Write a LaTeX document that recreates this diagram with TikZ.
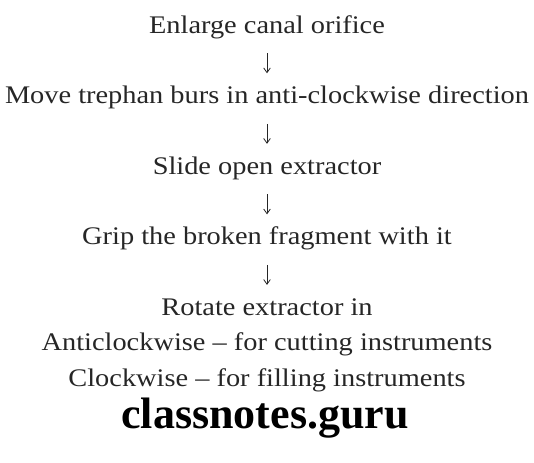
\documentclass[tikz,border=0pt]{standalone}
\usepackage{fontspec}
\setmainfont{Liberation Serif}[FakeStretch=1.12]
\newfontfamily\markfont{Liberation Serif}
\usetikzlibrary{arrows.meta, positioning}
\tikzstyle{stepbox} = [inner sep=0pt, font=\fontsize{19}{23}\selectfont, text height=12.75pt, text depth=3.75pt, text=black!85]
\tikzstyle{optline} = [stepbox]
\tikzstyle{sitemark} = [inner sep=0pt, anchor=base, font=\markfont\bfseries\fontsize{33}{38}\selectfont, text=black]
\tikzstyle{arrow} = [line width=0.6pt, draw=black!85, -{Straight Barb[length=3.5pt,width=5pt]}, shorten <=11.25pt, shorten >=9.75pt]

\begin{document}
\begin{tikzpicture}[x=0.75pt, y=-0.75pt, node distance=36pt]

        % Canvas
        \useasboundingbox (0,0) rectangle (534,462);

        % Steps
        \node (enlarge) [stepbox, anchor=base] at (267,33) {Enlarge canal orifice};
        \node (trephan) [stepbox, below=of enlarge] {Move trephan burs in anti-clockwise direction};
        \node (slide) [stepbox, below=of trephan] {Slide open extractor};
        \node (grip) [stepbox, below=of slide] {Grip the broken fragment with it};
        \node (rotate) [stepbox, below=of grip] {Rotate extractor in};

        % Directions of rotation
        \node (anticw) [optline, below=9.75pt of rotate] {Anticlockwise -- for cutting instruments};
        \node (clockw) [optline, below=9.75pt of anticw] {Clockwise -- for filling instruments};

        % Watermark
        \node (site) [sitemark] at (265,428) {classnotes.guru};

        % Arrows
        \draw [arrow] (enlarge) -- (trephan);
        \draw [arrow] (trephan) -- (slide);
        \draw [arrow] (slide) -- (grip);
        \draw [arrow] (grip) -- (rotate);

\end{tikzpicture}
\end{document}
